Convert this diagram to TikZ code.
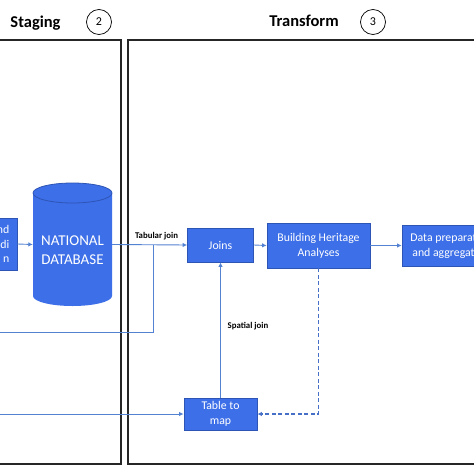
\documentclass[tikz,border=0pt]{standalone}
\usepackage{fontspec}
\setmainfont{Carlito}
\usetikzlibrary{arrows.meta}
\definecolor{boxblue}{RGB}{61,111,232}
\definecolor{boxedge}{RGB}{45,85,181}
\definecolor{lineblue}{RGB}{84,130,210}
\definecolor{dashblue}{RGB}{70,112,200}
\tikzset{
  frame/.style={draw=black!85, line width=1.2pt},
  bx/.style={draw=boxedge, fill=boxblue, line width=0.8pt, text=white, align=center,
    inner sep=0pt, font=\fontsize{11.8}{15}\selectfont},
  cn/.style={draw=lineblue, line width=0.9pt},
  arr/.style={-{Latex[length=4.5pt,width=4.5pt]}},
  dsh/.style={draw=dashblue, line width=1.3pt, dash pattern=on 4pt off 2.5pt},
  lbl/.style={font=\fontsize{8.8}{10}\selectfont\bfseries, inner sep=0pt},
  ttl/.style={font=\fontsize{16.5}{18}\selectfont\bfseries, inner sep=0pt},
  num/.style={draw=black, line width=0.7pt, circle, minimum size=25pt, inner sep=0pt,
    font=\fontsize{12}{14}\selectfont},
}
\begin{document}
\begin{tikzpicture}[x=1pt, y=-1pt]
\useasboundingbox (0,0) rectangle (474,474);
\fill[white] (0,0) rectangle (474,474);
\clip (0,0) rectangle (474,474);

% frames
\draw[frame] (-10,40) -- (121,40) -- (121,464) -- (-10,464);
\draw[frame] (490,40) -- (128,40) -- (128,464) -- (490,464);

% titles
\node[ttl] (tstage) at (35.5,23) {Staging};
\node[num] (n2) at (99,22) {2};
\node[ttl] (ttrans) at (304,21) {Transform};
\node[num] (n3) at (373,22) {3};

% left partial source box
\node[bx, minimum width=77pt, minimum height=52pt] (src) at (-21.5,244) {};
\node[text=white, align=right, anchor=east, inner sep=0pt,
  font=\fontsize{11.8}{14.5}\selectfont] (srct) at (9.5,244) {nd\\di\\n};

% database cylinder
\node[minimum width=79pt, minimum height=123pt, inner sep=0pt] (db) at (72.5,244.5) {};
\fill[boxblue] (33,193) -- (33,296) arc[start angle=180, end angle=0, x radius=39.5, y radius=10]
  -- (112,193) arc[start angle=0, end angle=-180, x radius=39.5, y radius=10] -- cycle;
\draw[boxedge, line width=0.8pt] (72.5,193) ellipse[x radius=39.5, y radius=10];
\node[text=white, align=center, inner sep=0pt, font=\fontsize{15}{18.5}\selectfont] (dbt)
  at (72.5,250) {NATIONAL\\DATABASE};

% process boxes
\node[bx, minimum width=66pt, minimum height=34pt] (joins) at (220.5,245) {Joins};
\node[bx, minimum width=103pt, minimum height=45pt] (bha) at (318.5,245.5) {Building Heritage\\Analyses};
\node[bx, minimum width=98pt, minimum height=41pt] (prep) at (451,245.5) {Data preparation\\and aggregation};
\node[bx, minimum width=73pt, minimum height=32pt] (tmap) at (220.5,414) {Table to\\map};

% connectors
\draw[cn, arr] (src.east) -- (db.west);
\draw[cn, arr] (db.east) -- (joins.west);
\coordinate (tj) at (153,244.5);
\coordinate (l1) at (-5,332);
\draw[cn] (l1) -| (tj);
\coordinate (l2) at (-5,414);
\draw[cn, arr] (l2) -- (tmap.west);
\draw[cn, arr] (joins.east) -- (bha.west);
\draw[cn, arr] (bha.east) -- (prep.west);
\draw[cn, arr] (tmap.north) -- (joins.south);
\draw[dsh, arr] (bha.south) |- (tmap.east);

% labels
\node[lbl] (ltab) at (156.5,236.5) {Tabular join};
\node[lbl] (lspa) at (248,326) {Spatial join};
\end{tikzpicture}
\end{document}
